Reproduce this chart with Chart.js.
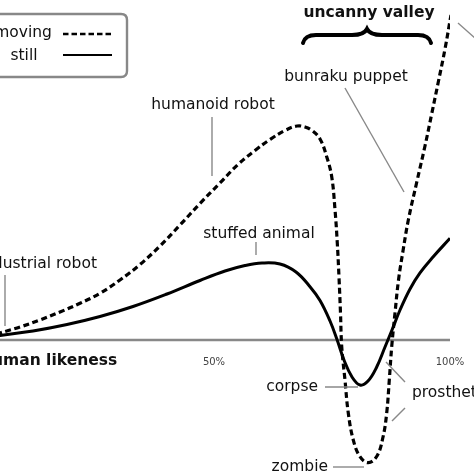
<!DOCTYPE html>
<html>
<head>
<meta charset="utf-8">
<script src="https://cdn.jsdelivr.net/npm/chart.js@4/dist/chart.umd.min.js"></script>
<style>
  html, body { margin: 0; padding: 0; background: #fff; overflow: hidden; width: 474px; height: 474px; }
  #wrap { position: absolute; left: -60px; top: 0; width: 600px; height: 474px; }
</style>
</head>
<body>
<div id="wrap"><canvas id="c" width="600" height="474"></canvas></div>
<script>
// ---- data (human likeness %, affinity units) ----
const movingX = [0, 4.66, 8.90, 13.14, 17.37, 21.61, 25.85, 30.08, 34.32, 38.56, 42.80, 47.03, 51.27, 55.08, 58.69, 61.86, 65.04, 67.58, 69.28, 70.76, 72.46, 73.88, 74.94, 75.64, 76.12, 76.48, 76.80, 77.06, 77.75, 78.45, 79.51, 80.93, 82.69, 84.53, 85.81, 86.59, 87.14, 87.65, 88.35, 89.09, 90.04, 91.17, 92.94, 94.70, 96.12, 97.52, 98.94, 100.21];
const movingY = [0, 2.06, 3.82, 5.88, 8.24, 10.79, 13.74, 17.65, 22.21, 27.65, 33.82, 40.15, 46.18, 51.62, 55.74, 58.97, 61.62, 62.94, 62.65, 61.62, 59.12, 53.91, 48.03, 38.24, 28.53, 18.53, 7.94, -1.97, -11.76, -21.47, -29.41, -34.32, -36.09, -34.12, -28.53, -21.47, -11.76, -1.97, 7.94, 17.65, 26.18, 35.29, 46.32, 57.06, 66.47, 75.88, 85.59, 95.59];
const stillX = [0, 4.66, 11.65, 18.86, 25.85, 32.84, 40.04, 47.03, 52.33, 56.57, 60.17, 63.98, 67.37, 70.34, 72.46, 74.58, 76.06, 77.54, 79.24, 80.93, 82.63, 84.47, 86.23, 87.71, 89.41, 91.53, 93.64, 96.40, 100];
const stillY = [0, 1.32, 2.65, 4.56, 6.91, 9.85, 13.53, 17.5, 20.29, 21.91, 22.65, 22.35, 20.0, 15.68, 11.62, 5.59, 0.15, -5.88, -10.88, -13.24, -12.06, -7.94, -2.06, 2.94, 8.82, 15.0, 19.71, 24.41, 29.91];
const axisX = [0, 100];
const tickValues = [50, 100];
const tickLabels = ['50%', '100%'];
const seriesNames = ['moving', 'still'];
const xTitle = 'human likeness';
const valleyTitle = 'uncanny valley';

const pts = (xs, ys) => xs.map((x, i) => ({ x, y: ys[i] }));

// page-pixel helpers (canvas is offset 60px left of page)
const OFF = 60;
const FONT = '"DejaVu Sans", sans-serif';

const annotations = [
  { text: 'humanoid robot', x: 213, y: 105, align: 'center', line: [[212, 117], [212, 176]] },
  { text: 'stuffed animal', x: 259, y: 234, align: 'center', line: [[256, 242], [256, 255]] },
  { text: 'industrial robot', x: 97, y: 264, align: 'right', line: [[5, 275], [5, 326]] },
  { text: 'bunraku puppet', x: 346, y: 77, align: 'center', line: [[345, 88], [404, 192]] },
  { text: 'corpse', x: 318, y: 387, align: 'right', line: [[325, 387], [358, 387]] },
  { text: 'zombie', x: 328, y: 467, align: 'right', line: [[333, 467], [364, 467]] },
  { text: 'prosthetic hand', x: 412, y: 393, align: 'left', lines: [[[386, 362], [405, 382]], [[392, 421], [405, 408]]] },
  { text: 'healthy person', x: 480, y: 45, align: 'left', line: [[458, 23], [476, 39]] }
];

const decor = {
  id: 'decor',
  afterDatasetsDraw(chart) {
    const ctx = chart.ctx;
    const xs = chart.scales.x, ys = chart.scales.y;
    ctx.save();
    ctx.translate(OFF, 0);
    ctx.textBaseline = 'middle';
    ctx.strokeStyle = '#888';
    ctx.lineWidth = 1.4;
    annotations.forEach(a => {
      const ls = a.lines || [a.line];
      ls.forEach(l => {
        ctx.beginPath();
        ctx.moveTo(l[0][0], l[0][1]);
        ctx.lineTo(l[1][0], l[1][1]);
        ctx.stroke();
      });
    });
    ctx.fillStyle = '#111';
    ctx.font = '15.5px ' + FONT;
    annotations.forEach(a => {
      ctx.textAlign = a.align;
      ctx.fillText(a.text, a.x, a.y);
    });
    ctx.restore();

    ctx.save();
    ctx.fillStyle = '#444';
    ctx.font = '10px ' + FONT;
    ctx.textAlign = 'center';
    ctx.textBaseline = 'middle';
    const y0 = ys.getPixelForValue(0);
    tickValues.forEach((v, i) => ctx.fillText(tickLabels[i], xs.getPixelForValue(v), y0 + 22));
    ctx.fillStyle = '#111';
    ctx.font = 'bold 15.5px ' + FONT;
    ctx.textAlign = 'left';
    ctx.fillText(xTitle, OFF - 19, y0 + 21);
    ctx.restore();

    ctx.save();
    ctx.translate(OFF, 0);
    ctx.fillStyle = '#111';
    ctx.font = 'bold 15.5px ' + FONT;
    ctx.textAlign = 'center';
    ctx.textBaseline = 'middle';
    ctx.fillText(valleyTitle, 369, 13);
    ctx.strokeStyle = '#000';
    ctx.lineWidth = 4;
    ctx.lineCap = 'round';
    ctx.beginPath();
    ctx.moveTo(303, 43);
    ctx.quadraticCurveTo(305, 35, 316, 35);
    ctx.lineTo(352, 35);
    ctx.quadraticCurveTo(364, 35, 367, 29);
    ctx.quadraticCurveTo(370, 35, 382, 35);
    ctx.lineTo(418, 35);
    ctx.quadraticCurveTo(429, 35, 431, 43);
    ctx.stroke();

    ctx.lineCap = 'butt';
    ctx.strokeStyle = '#888';
    ctx.lineWidth = 2.4;
    const r = 6, lx = -40, ly = 14, rx = 127, by = 77;
    ctx.beginPath();
    ctx.moveTo(lx + r, ly);
    ctx.lineTo(rx - r, ly);
    ctx.quadraticCurveTo(rx, ly, rx, ly + r);
    ctx.lineTo(rx, by - r);
    ctx.quadraticCurveTo(rx, by, rx - r, by);
    ctx.lineTo(lx + r, by);
    ctx.quadraticCurveTo(lx, by, lx, by - r);
    ctx.lineTo(lx, ly + r);
    ctx.quadraticCurveTo(lx, ly, lx + r, ly);
    ctx.stroke();
    ctx.fillStyle = '#111';
    ctx.font = '15.5px ' + FONT;
    ctx.fillText(seriesNames[0], 23, 33);
    ctx.fillText(seriesNames[1], 24, 56);
    ctx.strokeStyle = '#000';
    ctx.lineWidth = 2.6;
    ctx.setLineDash([5.5, 3]);
    ctx.beginPath(); ctx.moveTo(63, 34); ctx.lineTo(113, 34); ctx.stroke();
    ctx.setLineDash([]);
    ctx.lineWidth = 2;
    ctx.beginPath(); ctx.moveTo(63, 55); ctx.lineTo(112, 55); ctx.stroke();
    ctx.restore();
  }
};

new Chart(document.getElementById('c'), {
  type: 'line',
  data: {
    datasets: [
      { label: 'axis', data: pts(axisX, [0, 0]), borderColor: '#888', borderWidth: 2.4, pointRadius: 0, tension: 0, order: 3 },
      { label: seriesNames[1], data: pts(stillX, stillY), borderColor: '#000', borderWidth: 3, pointRadius: 0, tension: 0.4, order: 1 },
      { label: seriesNames[0], data: pts(movingX, movingY), borderColor: '#000', borderWidth: 3.2, borderDash: [6, 3.5], pointRadius: 0, tension: 0.4, order: 2 }
    ]
  },
  options: {
    responsive: false,
    animation: false,
    layout: { padding: { left: 38, right: 90, top: 0, bottom: 0 } },
    scales: {
      x: { type: 'linear', min: 0, max: 100, display: false },
      y: { type: 'linear', min: -134 / 3.4, max: 100, display: false }
    },
    plugins: { legend: { display: false }, tooltip: { enabled: false } }
  },
  plugins: [decor]
});
</script>
</body>
</html>
